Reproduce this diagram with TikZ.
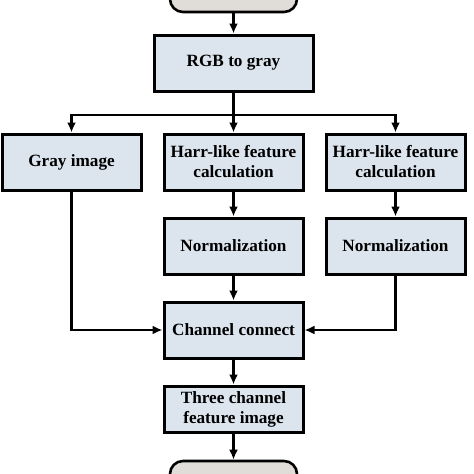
\documentclass[tikz,border=0pt]{standalone}
\usepackage{fontspec}
\setmainfont{Liberation Serif}
\usetikzlibrary{arrows.meta}
\usetikzlibrary{positioning}

\definecolor{boxblue}{HTML}{DCE4EE}
\definecolor{termgray}{HTML}{E0DCD8}

\tikzset{
  stepbox/.style={draw=black, line width=3pt, fill=boxblue, align=center,
    inner sep=0pt, minimum width=139pt, minimum height=56pt,
    font=\bfseries\fontsize{17.2}{20}\selectfont},
  term/.style={draw=black, line width=2.6pt, fill=termgray, rounded corners=13pt,
    minimum width=127pt, minimum height=40pt, inner sep=0pt},
  flow/.style={line width=2.2pt, -{Latex[length=10pt,width=9pt]}}
}

\begin{document}
\begin{tikzpicture}[x=1pt, y=-1pt]

      \useasboundingbox (0,0) rectangle (474,474);
      \clip (0,0) rectangle (474,474);

      % terminals, cut by the page edge
      \node[term] (start) at (233.5,-8) {};
      \node[term] (stop) at (233.5,481) {};

      \node[stepbox, minimum width=159pt] (rgb) at (233.5,63) {RGB to gray};

      \node[stepbox] (gray) at (71.5,162) {Gray image};
      \node[stepbox] (harrA) at (233.5,162) {Harr-like feature\\calculation};
      \node[stepbox] (harrB) at (395.5,162) {Harr-like feature\\calculation};

      \node[stepbox] (normA) at (233.5,246) {Normalization};
      \node[stepbox] (normB) at (395.5,246) {Normalization};

      \node[stepbox] (chan) at (233.5,330) {Channel connect};
      \node[stepbox, minimum height=46pt] (three) at (233.5,409) {Three channel\\feature image};

      \coordinate (split) at (233.5,115);

      \draw[flow] (start) -- (rgb);
      \draw[line width=2.2pt] (rgb) -- (split);
      \draw[flow] (split) -| (gray);
      \draw[flow] (split) -- (harrA);
      \draw[flow] (split) -| (harrB);

      \draw[flow] (harrA) -- (normA);
      \draw[flow] (harrB) -- (normB);

      \draw[flow] (gray) |- (chan);
      \draw[flow] (normA) -- (chan);
      \draw[flow] (normB) |- (chan);

      \draw[flow] (chan) -- (three);
      \draw[flow] (three) -- (stop);

\end{tikzpicture}
\end{document}
